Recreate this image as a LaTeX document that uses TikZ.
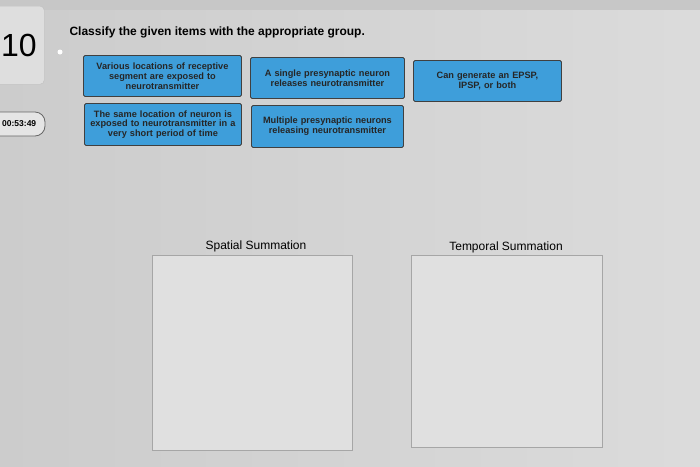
\documentclass[tikz,border=0pt]{standalone}
\usepackage{fontspec}
\setmainfont{Liberation Sans}
\definecolor{itemblue}{RGB}{62,158,218}
\begin{document}
\begin{tikzpicture}[x=1pt,y=-1pt,
 item/.style={draw=black!75,line width=0.9pt,fill=itemblue,rounded corners=1.5pt,align=center,font=\fontsize{9.2}{9.8}\selectfont\bfseries,text=black!85,anchor=north west,inner sep=1pt},
 drop/.style={draw=black!35,line width=0.6pt,fill=white!88!black}]
\useasboundingbox[left color=black!20,right color=black!14] (0,0) rectangle (700,466);
\fill[black!22] (0,0) rectangle (700,10);
\begin{scope}
\clip (0,0) rectangle (700,466);
\node[draw=black!25,fill=black!13,rounded corners=4pt,minimum width=50pt,minimum height=78pt,anchor=north west] (panel) at (-6,6) {};
\node[draw=black!60,line width=0.8pt,fill=black!10,rounded corners=10pt,minimum width=58pt,minimum height=24pt] (timer) at (16,124) {};
\end{scope}
\node[font=\fontsize{32}{32}\selectfont,anchor=east,inner sep=0pt] (num) at (37,45) {10};
\node[font=\fontsize{8.5}{9}\selectfont\bfseries,anchor=west,inner sep=0pt] (time) at (2,124) {00:53:49};
\node[anchor=west,font=\fontsize{12}{13}\selectfont\bfseries] (title) at (66,32) {Classify the given items with the appropriate group.};
\fill[white] (60,52) circle (2.5);
\node[item,text width=156pt,minimum height=41pt] (a) at (83,55) {Various locations of receptive\\segment are exposed to\\neurotransmitter};
\node[item,text width=152pt,minimum height=41pt] (b) at (250,57) {A single presynaptic neuron\\releases neurotransmitter};
\node[item,text width=146pt,minimum height=41pt] (c) at (413,60) {Can generate an EPSP,\\IPSP, or both};
\node[item,text width=155pt,minimum height=42pt] (d) at (84,103) {The same location of neuron is\\exposed to neurotransmitter in a\\very short period of time};
\node[item,text width=150pt,minimum height=42pt] (e) at (251,105) {Multiple presynaptic neurons\\releasing neurotransmitter};
\node[font=\fontsize{12}{13}\selectfont] (ls) at (256,246) {Spatial Summation};
\node[font=\fontsize{12}{13}\selectfont] (lt) at (506,247) {Temporal Summation};
\node[drop,minimum width=200pt,minimum height=195pt,anchor=north west] (sp) at (152,255) {};
\node[drop,minimum width=191pt,minimum height=192pt,anchor=north west] (tp) at (411,255) {};
\end{tikzpicture}
\end{document}
